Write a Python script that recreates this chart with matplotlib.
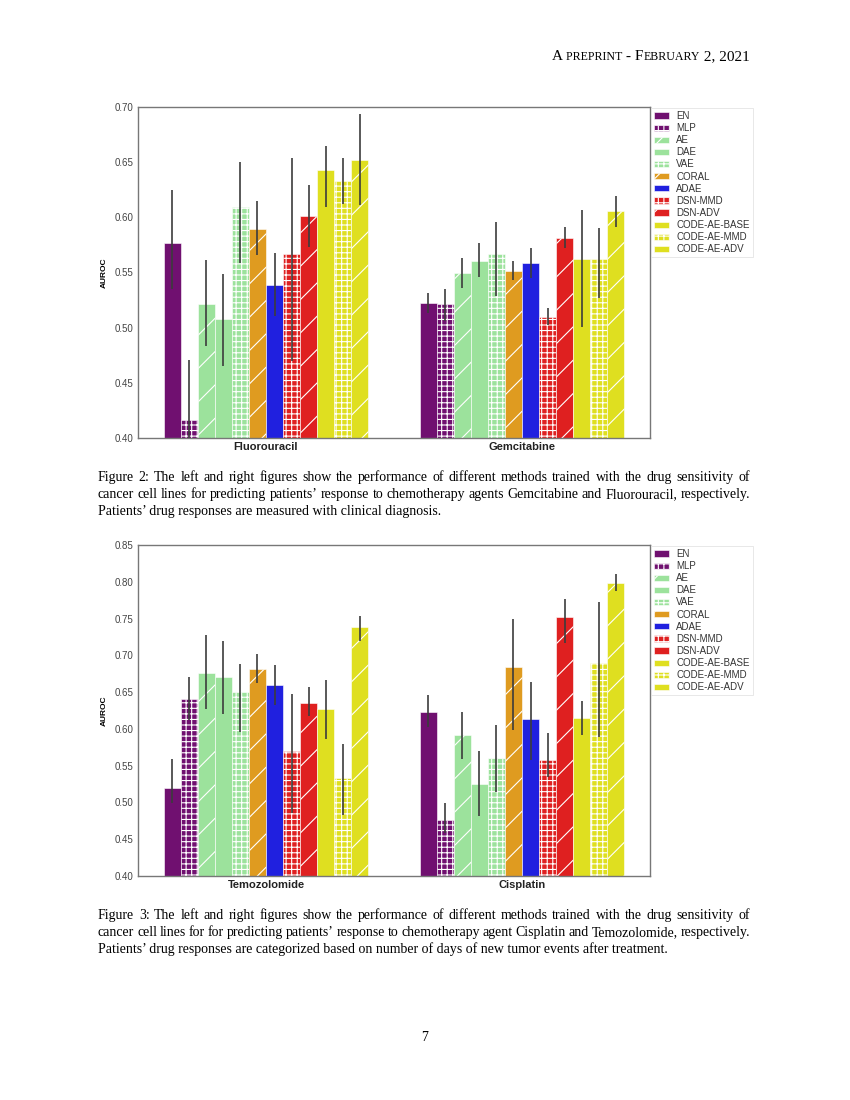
import numpy as np
from matplotlib import pyplot as plt
import matplotlib.patches as mpatches
from matplotlib.font_manager import FontProperties

# Data ------------------------------------------------------------------------------------------------------------------
methods = ['EN', 'MLP', 'AE', 'DAE', 'VAE', 'CORAL', 'ADAE', 'DSN-MMD', 'DSN-ADV',
           'CODE-AE-BASE', 'CODE-AE-MMD', 'CODE-AE-ADV']

fluoro_mean = [0.577, 0.416, 0.521, 0.508, 0.609, 0.589, 0.539, 0.567, 0.601, 0.643, 0.633, 0.652]
fluoro_lo = [0.535, 0.360, 0.483, 0.465, 0.559, 0.566, 0.511, 0.470, 0.573, 0.609, 0.612, 0.611]
fluoro_hi = [0.625, 0.471, 0.561, 0.549, 0.650, 0.615, 0.568, 0.654, 0.629, 0.665, 0.654, 0.694]

gemc_mean = [0.522, 0.521, 0.550, 0.560, 0.567, 0.551, 0.559, 0.510, 0.581, 0.562, 0.562, 0.606]
gemc_lo = [0.513, 0.506, 0.536, 0.546, 0.529, 0.543, 0.545, 0.502, 0.572, 0.501, 0.527, 0.591]
gemc_hi = [0.531, 0.535, 0.563, 0.577, 0.596, 0.560, 0.572, 0.518, 0.591, 0.607, 0.590, 0.619]

temo_mean = [0.519, 0.641, 0.676, 0.670, 0.650, 0.681, 0.659, 0.570, 0.635, 0.627, 0.533, 0.738]
temo_lo = [0.499, 0.612, 0.627, 0.620, 0.596, 0.663, 0.633, 0.486, 0.618, 0.586, 0.483, 0.719]
temo_hi = [0.559, 0.670, 0.728, 0.719, 0.688, 0.702, 0.687, 0.647, 0.657, 0.666, 0.580, 0.753]

cis_mean = [0.623, 0.476, 0.592, 0.525, 0.561, 0.684, 0.613, 0.558, 0.752, 0.615, 0.690, 0.798]
cis_lo = [0.603, 0.458, 0.559, 0.481, 0.514, 0.598, 0.558, 0.534, 0.717, 0.592, 0.589, 0.787]
cis_hi = [0.646, 0.499, 0.623, 0.570, 0.605, 0.749, 0.664, 0.594, 0.777, 0.638, 0.773, 0.810]

top_drugs = ['Fluorouracil', 'Gemcitabine']
bottom_drugs = ['Temozolomide', 'Cisplatin']
top_yticks = [0.40, 0.45, 0.50, 0.55, 0.60, 0.65, 0.70]
bottom_yticks = [0.40, 0.45, 0.50, 0.55, 0.60, 0.65, 0.70, 0.75, 0.80, 0.85]

# Styles ----------------------------------------------------------------------------------------------------------------
colors = ['#701070', '#701070', '#9ce29c', '#9ce29c', '#9ce29c', '#df9b20', '#2020df', '#df2020', '#df2020',
          '#dfdf20', '#dfdf20', '#dfdf20']
hatches = ['', '+++', '/', '', '+++', '/', '', '+++', '/', '', '+++', '/']

caption2 = ["Figure 2: The left and right figures show the performance of different methods trained with the drug sensitivity of",
            "cancer cell lines for predicting patients\u2019 response to chemotherapy agents Gemcitabine and Fluorouracil, respectively.",
            "Patients\u2019 drug responses are measured with clinical diagnosis."]
caption3 = ["Figure 3: The left and right figures show the performance of different methods trained with the drug sensitivity of",
            "cancer cell lines for for predicting patients\u2019 response to chemotherapy agent Cisplatin and Temozolomide, respectively.",
            "Patients\u2019 drug responses are categorized based on number of days of new tumor events after treatment."]
header = [("A", 11), (" PREPRINT", 8.6), (" - F", 11), ("EBRUARY", 8.6), (" 2, 2021", 11)]

plt.rcParams['font.family'] = ['Liberation Sans', 'DejaVu Sans']
plt.rcParams['hatch.linewidth'] = 0.8

W, H = 850, 1100


def render_bars(ax, drugs, means, los, his, yticks):
    n = len(methods)
    w = 0.8 / n
    for i in range(n):
        xs = [g - 0.4 + (i + 0.5) * w for g in range(len(drugs))]
        ms = [m[i] for m in means]
        err = [[m[i] - lo[i] for m, lo in zip(means, los)], [hi[i] - m[i] for m, hi in zip(means, his)]]
        ax.bar(xs, ms, width=w, color=colors[i], hatch=hatches[i], edgecolor='white', linewidth=0.4,
               yerr=err, error_kw=dict(ecolor='#3c3c3c', elinewidth=1.2, capsize=0), label=methods[i])
    ax.set_xlim(-0.5, len(drugs) - 0.5)
    ax.set_ylim(yticks[0], yticks[-1])
    ax.set_yticks(yticks)
    ax.set_yticklabels([f"{t:.2f}" for t in yticks], fontsize=7, color='#444444')
    ax.set_xticks(range(len(drugs)))
    ax.set_xticklabels(drugs, fontsize=8, fontweight='bold', color='#222222')
    ax.tick_params(length=0, pad=3)
    ax.set_ylabel('AUROC', fontsize=6, fontweight='bold', labelpad=5)
    for s in ax.spines.values():
        s.set_color('#777777')
        s.set_linewidth(1.0)
    handles = [mpatches.Patch(facecolor=c, hatch=h, edgecolor='white', linewidth=0.4, label=m)
               for c, h, m in zip(colors, hatches, methods)]
    leg = ax.legend(handles=handles, loc='upper left', bbox_to_anchor=(1.0, 1.0), fontsize=7, frameon=True,
                    labelspacing=0.22, handlelength=1.6, handleheight=0.6, handletextpad=0.7, borderpad=0.3,
                    fancybox=False, borderaxespad=0.1)
    for t in leg.get_texts():
        t.set_color('#333333')
    leg.get_frame().set_edgecolor('#dddddd')
    leg.get_frame().set_linewidth(0.6)


# text widths are measured on a scratch figure, so the page only gets its final texts
scratch = plt.figure(figsize=(8.5, 11), dpi=100)
scratch_r = scratch.canvas.get_renderer()


def width_of(s, size):
    t = scratch.text(0, 0, s, fontproperties=FontProperties(family='Liberation Serif', size=size))
    w = t.get_window_extent(scratch_r).width
    t.remove()
    return w


def put(fig, px, py, s, size, **kw):
    fp = FontProperties(family='Liberation Serif', size=size)
    return fig.text(px / W, 1 - py / H, s, fontproperties=fp, va='baseline', **kw)


def justify(fig, line, py, x0, x1, size):
    words = line.split(' ')
    widths = [width_of(wd, size) for wd in words]
    gap = (x1 - x0 - sum(widths)) / (len(words) - 1)
    x = x0
    for wd, wdt in zip(words, widths):
        put(fig, x, py, wd, size)
        x += wdt + gap


def small_caps(fig, parts, px_right, py):
    widths = [width_of(s, size) for s, size in parts]
    x = px_right - sum(widths)
    for (s, size), wdt in zip(parts, widths):
        put(fig, x, py, s, size)
        x += wdt


def caption(fig, lines, py0):
    for i, line in enumerate(lines):
        py = py0 + i * 17
        if i < len(lines) - 1:
            justify(fig, line, py, 98, 750, 10)
        else:
            put(fig, 98, py, line, 10)


fig = plt.figure(figsize=(8.5, 11), dpi=100)
ax1 = fig.add_axes([138 / W, 1 - 438 / H, 512 / W, 331 / H])
render_bars(ax1, top_drugs, [fluoro_mean, gemc_mean], [fluoro_lo, gemc_lo], [fluoro_hi, gemc_hi], top_yticks)
ax2 = fig.add_axes([138 / W, 1 - 876 / H, 512 / W, 331 / H])
render_bars(ax2, bottom_drugs, [temo_mean, cis_mean], [temo_lo, cis_lo], [temo_hi, cis_hi], bottom_yticks)

small_caps(fig, header, 750, 60)
caption(fig, caption2, 481)
caption(fig, caption3, 919)
put(fig, 425, 1041, "7", 10, ha='center')

fig.savefig('out.png', dpi=100)
